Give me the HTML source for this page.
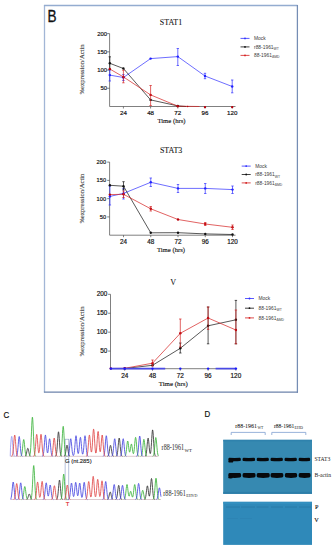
<!DOCTYPE html>
<html><head><meta charset="utf-8"><style>
html,body{margin:0;padding:0;background:#fff;}
body{width:334px;height:550px;overflow:hidden;}
svg{display:block;}
</style></head><body>
<svg width="334" height="550" viewBox="0 0 334 550">
<rect width="334" height="550" fill="#fff"/>
<path d="M44.5,5.5 V392.2" stroke="#a2b6d6" stroke-width="1.3" fill="none"/>
<path d="M43.9,5.5 H297.5" stroke="#94acd0" stroke-width="1.3" fill="none"/>
<path d="M297.4,4.9 V392.8" stroke="#758db4" stroke-width="1.25" fill="none"/>
<path d="M43.9,392.2 H298.0" stroke="#6c83ab" stroke-width="1.25" fill="none"/>
<text transform="translate(47.5,21.6) scale(0.86,1)" font-family='"Liberation Sans", sans-serif' font-size="15.8" fill="#111" stroke="#111" stroke-width="0.3">B</text>
<g stroke="#555" stroke-width="0.75" fill="none">
<path d="M109.6,33.6 V106.5 H235.5"/>
<path d="M107.19999999999999,33.60 H109.6"/>
<path d="M107.19999999999999,51.83 H109.6"/>
<path d="M107.19999999999999,70.05 H109.6"/>
<path d="M107.19999999999999,88.28 H109.6"/>
<path d="M123.40,106.5 V108.5"/>
<path d="M150.60,106.5 V108.5"/>
<path d="M177.80,106.5 V108.5"/>
<path d="M205.00,106.5 V108.5"/>
<path d="M232.20,106.5 V108.5"/>
</g>
<text x="107.0" y="35.60" font-family='"Liberation Sans", sans-serif' font-size="5.9" text-anchor="end" fill="#111" stroke="#111" stroke-width="0.18">200</text>
<text x="107.0" y="53.83" font-family='"Liberation Sans", sans-serif' font-size="5.9" text-anchor="end" fill="#111" stroke="#111" stroke-width="0.18">150</text>
<text x="107.0" y="72.05" font-family='"Liberation Sans", sans-serif' font-size="5.9" text-anchor="end" fill="#111" stroke="#111" stroke-width="0.18">100</text>
<text x="107.0" y="90.28" font-family='"Liberation Sans", sans-serif' font-size="5.9" text-anchor="end" fill="#111" stroke="#111" stroke-width="0.18">50</text>
<text x="123.40" y="115.40" font-family='"Liberation Sans", sans-serif' font-size="6.2" text-anchor="middle" fill="#111" stroke="#111" stroke-width="0.18">24</text>
<text x="150.60" y="115.40" font-family='"Liberation Sans", sans-serif' font-size="6.2" text-anchor="middle" fill="#111" stroke="#111" stroke-width="0.18">48</text>
<text x="177.80" y="115.40" font-family='"Liberation Sans", sans-serif' font-size="6.2" text-anchor="middle" fill="#111" stroke="#111" stroke-width="0.18">72</text>
<text x="205.00" y="115.40" font-family='"Liberation Sans", sans-serif' font-size="6.2" text-anchor="middle" fill="#111" stroke="#111" stroke-width="0.18">96</text>
<text x="232.20" y="115.40" font-family='"Liberation Sans", sans-serif' font-size="6.2" text-anchor="middle" fill="#111" stroke="#111" stroke-width="0.18">120</text>
<text x="171.5" y="123.0" font-family='"Liberation Serif", serif' font-size="6.6" text-anchor="middle" fill="#111" stroke="#111" stroke-width="0.12" textLength="28.2" lengthAdjust="spacingAndGlyphs">Time (hrs)</text>
<text transform="translate(84.0,69.5) rotate(-90)" font-family='"Liberation Serif", serif' font-size="6.6" text-anchor="middle" fill="#444" stroke="#444" stroke-width="0.12" textLength="50.0" lengthAdjust="spacingAndGlyphs">%expression/Actin</text>
<text x="171.0" y="25.0" font-family='"Liberation Serif", serif' font-size="7.5" text-anchor="middle" fill="#111" stroke="#111" stroke-width="0.08" textLength="22.4" lengthAdjust="spacingAndGlyphs">STAT1</text>
<path d="M109.80,75.10 L123.40,77.50 L150.60,58.60 L177.80,56.60 L205.00,76.00 L232.20,86.50" fill="none" stroke="#2f2fff" stroke-width="0.7"/>
<circle cx="109.80" cy="75.10" r="1.2" fill="#1a1aff"/>
<circle cx="123.40" cy="77.50" r="1.2" fill="#1a1aff"/>
<circle cx="150.60" cy="58.60" r="1.2" fill="#1a1aff"/>
<circle cx="177.80" cy="56.60" r="1.2" fill="#1a1aff"/>
<circle cx="205.00" cy="76.00" r="1.2" fill="#1a1aff"/>
<circle cx="232.20" cy="86.50" r="1.2" fill="#1a1aff"/>
<path d="M109.80,70 V81 M108.60,70 H111.00 M108.60,81 H111.00" stroke="#2f2fff" stroke-width="0.7" fill="none"/>
<path d="M123.40,74.5 V80.5 M122.20,74.5 H124.60 M122.20,80.5 H124.60" stroke="#2f2fff" stroke-width="0.7" fill="none"/>
<path d="M177.80,48.5 V65.5 M176.60,48.5 H179.00 M176.60,65.5 H179.00" stroke="#2f2fff" stroke-width="0.7" fill="none"/>
<path d="M205.00,73.3 V78.7 M203.80,73.3 H206.20 M203.80,78.7 H206.20" stroke="#2f2fff" stroke-width="0.7" fill="none"/>
<path d="M232.20,80 V92.8 M231.00,80 H233.40 M231.00,92.8 H233.40" stroke="#2f2fff" stroke-width="0.7" fill="none"/>
<path d="M109.80,63.30 L123.40,68.50 L150.60,99.90 L177.80,105.90 L186.00,106.50" fill="none" stroke="#111" stroke-width="0.7"/>
<circle cx="109.80" cy="63.30" r="1.2" fill="#111"/>
<circle cx="123.40" cy="68.50" r="1.2" fill="#111"/>
<circle cx="150.60" cy="99.90" r="1.2" fill="#111"/>
<circle cx="177.80" cy="105.90" r="1.2" fill="#111"/>
<path d="M109.80,56.8 V69.5 M108.60,56.8 H111.00 M108.60,69.5 H111.00" stroke="#111" stroke-width="0.7" fill="none"/>
<path d="M109.80,69.00 L123.40,76.90 L150.60,94.90 L177.80,106.20 L199.40,106.50 M205.00,107.10 M232.20,107.10" fill="none" stroke="#d42020" stroke-width="0.7"/>
<circle cx="109.80" cy="69.00" r="1.2" fill="#b8000c"/>
<circle cx="123.40" cy="76.90" r="1.2" fill="#b8000c"/>
<circle cx="150.60" cy="94.90" r="1.2" fill="#b8000c"/>
<circle cx="177.80" cy="106.20" r="1.2" fill="#b8000c"/>
<circle cx="205.00" cy="107.10" r="1.2" fill="#b8000c"/>
<circle cx="232.20" cy="107.10" r="1.2" fill="#b8000c"/>
<path d="M123.40,70.3 V82.8 M122.20,70.3 H124.60 M122.20,82.8 H124.60" stroke="#d42020" stroke-width="0.7" fill="none"/>
<path d="M150.60,85.5 V105.5 M149.40,85.5 H151.80 M149.40,105.5 H151.80" stroke="#d42020" stroke-width="0.7" fill="none"/>
<path d="M240.5,38.40 H249.5" stroke="#2f2fff" stroke-width="0.8"/>
<circle cx="245.0" cy="38.40" r="0.9" fill="#2f2fff"/>
<text x="254.0" y="40.20" font-family='"Liberation Sans", sans-serif' font-size="4.9" fill="#3a3a3a">Mock</text>
<path d="M240.5,46.90 H249.5" stroke="#111" stroke-width="0.8"/>
<circle cx="245.0" cy="46.90" r="0.9" fill="#111"/>
<text x="254.0" y="48.70" font-family='"Liberation Sans", sans-serif' font-size="4.9" fill="#3a3a3a">r88-1961<tspan font-size="3.4" dy="1.2">WT</tspan></text>
<path d="M240.5,55.40 H249.5" stroke="#d42020" stroke-width="0.8"/>
<circle cx="245.0" cy="55.40" r="0.9" fill="#d42020"/>
<text x="254.0" y="57.20" font-family='"Liberation Sans", sans-serif' font-size="4.9" fill="#3a3a3a">88-1961<tspan font-size="3.4" dy="1.2">ΔMD</tspan></text>
<circle cx="187.6" cy="106.5" r="0.8" fill="#b8000c"/>
<g stroke="#555" stroke-width="0.75" fill="none">
<path d="M109.6,162.1 V235.2 H235.5"/>
<path d="M107.19999999999999,162.10 H109.6"/>
<path d="M107.19999999999999,180.38 H109.6"/>
<path d="M107.19999999999999,198.65 H109.6"/>
<path d="M107.19999999999999,216.92 H109.6"/>
<path d="M123.50,235.2 V237.2"/>
<path d="M150.75,235.2 V237.2"/>
<path d="M178.00,235.2 V237.2"/>
<path d="M205.25,235.2 V237.2"/>
<path d="M232.50,235.2 V237.2"/>
</g>
<text x="106.1" y="164.10" font-family='"Liberation Sans", sans-serif' font-size="5.7" text-anchor="end" fill="#111" stroke="#111" stroke-width="0.18">200</text>
<text x="106.1" y="182.38" font-family='"Liberation Sans", sans-serif' font-size="5.7" text-anchor="end" fill="#111" stroke="#111" stroke-width="0.18">150</text>
<text x="106.1" y="200.65" font-family='"Liberation Sans", sans-serif' font-size="5.7" text-anchor="end" fill="#111" stroke="#111" stroke-width="0.18">100</text>
<text x="106.1" y="218.92" font-family='"Liberation Sans", sans-serif' font-size="5.7" text-anchor="end" fill="#111" stroke="#111" stroke-width="0.18">50</text>
<text x="123.50" y="244.10" font-family='"Liberation Sans", sans-serif' font-size="6.3" text-anchor="middle" fill="#111" stroke="#111" stroke-width="0.18">24</text>
<text x="150.75" y="244.10" font-family='"Liberation Sans", sans-serif' font-size="6.3" text-anchor="middle" fill="#111" stroke="#111" stroke-width="0.18">48</text>
<text x="178.00" y="244.10" font-family='"Liberation Sans", sans-serif' font-size="6.3" text-anchor="middle" fill="#111" stroke="#111" stroke-width="0.18">72</text>
<text x="205.25" y="244.10" font-family='"Liberation Sans", sans-serif' font-size="6.3" text-anchor="middle" fill="#111" stroke="#111" stroke-width="0.18">96</text>
<text x="232.50" y="244.10" font-family='"Liberation Sans", sans-serif' font-size="6.3" text-anchor="middle" fill="#111" stroke="#111" stroke-width="0.18">120</text>
<text x="171" y="252.0" font-family='"Liberation Serif", serif' font-size="6.6" text-anchor="middle" fill="#111" stroke="#111" stroke-width="0.12" textLength="28.2" lengthAdjust="spacingAndGlyphs">Time (hrs)</text>
<text transform="translate(83.7,198.6) rotate(-90)" font-family='"Liberation Serif", serif' font-size="6.6" text-anchor="middle" fill="#444" stroke="#444" stroke-width="0.12" textLength="50.0" lengthAdjust="spacingAndGlyphs">%expression/Actin</text>
<text x="171.1" y="152.5" font-family='"Liberation Serif", serif' font-size="7.5" text-anchor="middle" fill="#111" stroke="#111" stroke-width="0.08" textLength="22.4" lengthAdjust="spacingAndGlyphs">STAT3</text>
<path d="M109.88,196.40 L123.50,193.40 L150.75,182.30 L178.00,188.40 L205.25,188.40 L232.50,189.60" fill="none" stroke="#2f2fff" stroke-width="0.7"/>
<circle cx="109.88" cy="196.40" r="1.2" fill="#1a1aff"/>
<circle cx="123.50" cy="193.40" r="1.2" fill="#1a1aff"/>
<circle cx="150.75" cy="182.30" r="1.2" fill="#1a1aff"/>
<circle cx="178.00" cy="188.40" r="1.2" fill="#1a1aff"/>
<circle cx="205.25" cy="188.40" r="1.2" fill="#1a1aff"/>
<circle cx="232.50" cy="189.60" r="1.2" fill="#1a1aff"/>
<path d="M109.88,186 V205 M108.67,186 H111.08 M108.67,205 H111.08" stroke="#2f2fff" stroke-width="0.7" fill="none"/>
<path d="M123.50,188.5 V199 M122.30,188.5 H124.70 M122.30,199 H124.70" stroke="#2f2fff" stroke-width="0.7" fill="none"/>
<path d="M150.75,178 V186.5 M149.55,178 H151.95 M149.55,186.5 H151.95" stroke="#2f2fff" stroke-width="0.7" fill="none"/>
<path d="M178.00,184.5 V192.5 M176.80,184.5 H179.20 M176.80,192.5 H179.20" stroke="#2f2fff" stroke-width="0.7" fill="none"/>
<path d="M205.25,183.5 V193.5 M204.05,183.5 H206.45 M204.05,193.5 H206.45" stroke="#2f2fff" stroke-width="0.7" fill="none"/>
<path d="M232.50,186 V193.5 M231.30,186 H233.70 M231.30,193.5 H233.70" stroke="#2f2fff" stroke-width="0.7" fill="none"/>
<path d="M109.88,185.30 L123.50,186.20 L150.75,232.80 L178.00,232.70 L205.25,233.90 L232.50,234.50" fill="none" stroke="#111" stroke-width="0.7"/>
<circle cx="109.88" cy="185.30" r="1.2" fill="#111"/>
<circle cx="123.50" cy="186.20" r="1.2" fill="#111"/>
<circle cx="150.75" cy="232.80" r="1.2" fill="#111"/>
<circle cx="178.00" cy="232.70" r="1.2" fill="#111"/>
<circle cx="205.25" cy="233.90" r="1.2" fill="#111"/>
<circle cx="232.50" cy="234.50" r="1.2" fill="#111"/>
<path d="M123.50,181.7 V189.8 M122.30,181.7 H124.70 M122.30,189.8 H124.70" stroke="#111" stroke-width="0.7" fill="none"/>
<path d="M109.88,194.60 L123.50,194.30 L150.75,208.80 L178.00,219.50 L205.25,224.00 L232.50,227.30" fill="none" stroke="#d42020" stroke-width="0.7"/>
<circle cx="109.88" cy="194.60" r="1.2" fill="#b8000c"/>
<circle cx="123.50" cy="194.30" r="1.2" fill="#b8000c"/>
<circle cx="150.75" cy="208.80" r="1.2" fill="#b8000c"/>
<circle cx="178.00" cy="219.50" r="1.2" fill="#b8000c"/>
<circle cx="205.25" cy="224.00" r="1.2" fill="#b8000c"/>
<circle cx="232.50" cy="227.30" r="1.2" fill="#b8000c"/>
<path d="M123.50,191 V197.5 M122.30,191 H124.70 M122.30,197.5 H124.70" stroke="#d42020" stroke-width="0.7" fill="none"/>
<path d="M150.75,206.5 V211 M149.55,206.5 H151.95 M149.55,211 H151.95" stroke="#d42020" stroke-width="0.7" fill="none"/>
<path d="M205.25,222.5 V225.5 M204.05,222.5 H206.45 M204.05,225.5 H206.45" stroke="#d42020" stroke-width="0.7" fill="none"/>
<path d="M232.50,225 V229.5 M231.30,225 H233.70 M231.30,229.5 H233.70" stroke="#d42020" stroke-width="0.7" fill="none"/>
<path d="M241.7,166.10 H250.7" stroke="#2f2fff" stroke-width="0.8"/>
<circle cx="246.2" cy="166.10" r="0.9" fill="#2f2fff"/>
<text x="255.2" y="167.90" font-family='"Liberation Sans", sans-serif' font-size="4.9" fill="#3a3a3a">Mock</text>
<path d="M241.7,174.50 H250.7" stroke="#111" stroke-width="0.8"/>
<circle cx="246.2" cy="174.50" r="0.9" fill="#111"/>
<text x="255.2" y="176.30" font-family='"Liberation Sans", sans-serif' font-size="4.9" fill="#3a3a3a">r88-1961<tspan font-size="3.4" dy="1.2">WT</tspan></text>
<path d="M241.7,182.90 H250.7" stroke="#d42020" stroke-width="0.8"/>
<circle cx="246.2" cy="182.90" r="0.9" fill="#d42020"/>
<text x="255.2" y="184.70" font-family='"Liberation Sans", sans-serif' font-size="4.9" fill="#3a3a3a">r88-1961<tspan font-size="3.4" dy="1.2">ΔMD</tspan></text>
<g stroke="#555" stroke-width="0.75" fill="none">
<path d="M110.5,294.3 V368.7 H236.5"/>
<path d="M108.1,294.30 H110.5"/>
<path d="M108.1,313.23 H110.5"/>
<path d="M108.1,332.15 H110.5"/>
<path d="M108.1,351.07 H110.5"/>
<path d="M124.70,368.7 V370.7"/>
<path d="M152.50,368.7 V370.7"/>
<path d="M180.30,368.7 V370.7"/>
<path d="M208.10,368.7 V370.7"/>
<path d="M235.90,368.7 V370.7"/>
</g>
<text x="107.4" y="296.30" font-family='"Liberation Sans", sans-serif' font-size="6.4" text-anchor="end" fill="#111" stroke="#111" stroke-width="0.18">200</text>
<text x="107.4" y="315.23" font-family='"Liberation Sans", sans-serif' font-size="6.4" text-anchor="end" fill="#111" stroke="#111" stroke-width="0.18">150</text>
<text x="107.4" y="334.15" font-family='"Liberation Sans", sans-serif' font-size="6.4" text-anchor="end" fill="#111" stroke="#111" stroke-width="0.18">100</text>
<text x="107.4" y="353.07" font-family='"Liberation Sans", sans-serif' font-size="6.4" text-anchor="end" fill="#111" stroke="#111" stroke-width="0.18">50</text>
<text x="124.70" y="377.60" font-family='"Liberation Sans", sans-serif' font-size="6.4" text-anchor="middle" fill="#111" stroke="#111" stroke-width="0.18">24</text>
<text x="152.50" y="377.60" font-family='"Liberation Sans", sans-serif' font-size="6.4" text-anchor="middle" fill="#111" stroke="#111" stroke-width="0.18">48</text>
<text x="180.30" y="377.60" font-family='"Liberation Sans", sans-serif' font-size="6.4" text-anchor="middle" fill="#111" stroke="#111" stroke-width="0.18">72</text>
<text x="208.10" y="377.60" font-family='"Liberation Sans", sans-serif' font-size="6.4" text-anchor="middle" fill="#111" stroke="#111" stroke-width="0.18">96</text>
<text x="235.90" y="377.60" font-family='"Liberation Sans", sans-serif' font-size="6.4" text-anchor="middle" fill="#111" stroke="#111" stroke-width="0.18">120</text>
<text x="173.2" y="386.3" font-family='"Liberation Serif", serif' font-size="6.6" text-anchor="middle" fill="#111" stroke="#111" stroke-width="0.12" textLength="29.0" lengthAdjust="spacingAndGlyphs">Time (hrs)</text>
<text transform="translate(84.4,331.5) rotate(-90)" font-family='"Liberation Serif", serif' font-size="6.6" text-anchor="middle" fill="#444" stroke="#444" stroke-width="0.12" textLength="50.0" lengthAdjust="spacingAndGlyphs">%expression/Actin</text>
<text x="173.3" y="284.6" font-family='"Liberation Serif", serif' font-size="8.2" text-anchor="middle" fill="#111" stroke="#111" stroke-width="0.05">V</text>
<path d="M124.70,368.50 L152.50,365.30 L180.30,348.30 L208.10,325.80 L235.90,319.80" fill="none" stroke="#111" stroke-width="0.7"/>
<circle cx="124.70" cy="368.50" r="1.2" fill="#111"/>
<circle cx="152.50" cy="365.30" r="1.2" fill="#111"/>
<circle cx="180.30" cy="348.30" r="1.2" fill="#111"/>
<circle cx="208.10" cy="325.80" r="1.2" fill="#111"/>
<circle cx="235.90" cy="319.80" r="1.2" fill="#111"/>
<path d="M180.30,343 V353 M179.10,343 H181.50 M179.10,353 H181.50" stroke="#111" stroke-width="0.7" fill="none"/>
<path d="M208.10,307 V343.8 M206.90,307 H209.30 M206.90,343.8 H209.30" stroke="#111" stroke-width="0.7" fill="none"/>
<path d="M235.90,300.4 V343.8 M234.70,300.4 H237.10 M234.70,343.8 H237.10" stroke="#111" stroke-width="0.7" fill="none"/>
<path d="M110.80,368.50 L124.70,368.30 L152.50,363.20 L180.30,333.30 L208.10,318.00 L235.90,330.00" fill="none" stroke="#d42020" stroke-width="0.7"/>
<circle cx="110.80" cy="368.50" r="1.2" fill="#b8000c"/>
<circle cx="124.70" cy="368.30" r="1.2" fill="#b8000c"/>
<circle cx="152.50" cy="363.20" r="1.2" fill="#b8000c"/>
<circle cx="180.30" cy="333.30" r="1.2" fill="#b8000c"/>
<circle cx="208.10" cy="318.00" r="1.2" fill="#b8000c"/>
<circle cx="235.90" cy="330.00" r="1.2" fill="#b8000c"/>
<path d="M152.50,360 V366 M151.30,360 H153.70 M151.30,366 H153.70" stroke="#d42020" stroke-width="0.7" fill="none"/>
<path d="M180.30,319 V347 M179.10,319 H181.50 M179.10,347 H181.50" stroke="#d42020" stroke-width="0.7" fill="none"/>
<path d="M208.10,307 V329.4 M206.90,307 H209.30 M206.90,329.4 H209.30" stroke="#d42020" stroke-width="0.7" fill="none"/>
<path d="M235.90,310 V343.8 M234.70,310 H237.10 M234.70,343.8 H237.10" stroke="#d42020" stroke-width="0.7" fill="none"/>
<path d="M110.5,368.6 H165.2" stroke="#4a4ae6" stroke-width="1.7"/>
<path d="M215.6,368.6 H236.2" stroke="#4a4ae6" stroke-width="1.7"/>
<circle cx="110.80" cy="368.60" r="1.2" fill="#1a1aff"/>
<circle cx="124.70" cy="368.60" r="1.2" fill="#1a1aff"/>
<circle cx="152.50" cy="368.60" r="1.2" fill="#1a1aff"/>
<circle cx="180.30" cy="368.60" r="1.2" fill="#1a1aff"/>
<circle cx="208.10" cy="368.60" r="1.2" fill="#1a1aff"/>
<circle cx="235.90" cy="368.60" r="1.2" fill="#1a1aff"/>
<path d="M245,298.50 H254" stroke="#2f2fff" stroke-width="0.8"/>
<circle cx="249.5" cy="298.50" r="0.9" fill="#2f2fff"/>
<text x="258.5" y="300.30" font-family='"Liberation Sans", sans-serif' font-size="4.9" fill="#3a3a3a">Mock</text>
<path d="M245,308.20 H254" stroke="#111" stroke-width="0.8"/>
<circle cx="249.5" cy="308.20" r="0.9" fill="#111"/>
<text x="258.5" y="310.00" font-family='"Liberation Sans", sans-serif' font-size="4.9" fill="#3a3a3a">88-1961<tspan font-size="3.4" dy="1.2">WT</tspan></text>
<path d="M245,317.90 H254" stroke="#d42020" stroke-width="0.8"/>
<circle cx="249.5" cy="317.90" r="0.9" fill="#d42020"/>
<text x="258.5" y="319.70" font-family='"Liberation Sans", sans-serif' font-size="4.9" fill="#3a3a3a">88-1961<tspan font-size="3.4" dy="1.2">ΔMD</tspan></text>
<text transform="translate(3.5,418.0) scale(0.8,1)" font-family='"Liberation Sans", sans-serif' font-size="9.9" fill="#111" stroke="#111" stroke-width="0.2">C</text>
<rect x="65.1" y="439.2" width="3.7" height="60.6" fill="none" stroke="#8c9fc8" stroke-width="0.65"/>
<path d="M10.5,456.3 H158.5" stroke="#c4a4ac" stroke-width="0.6"/>
<path d="M10.25,456.30 10.50,447.29 10.75,444.17 11.00,441.05 11.25,438.42 11.50,436.74 11.75,436.33 12.00,437.27 12.25,439.39 12.50,442.27 12.75,445.44 13.00,448.46 13.25,451.02 13.50,452.98 13.75,454.35 14.00,455.23 14.25,455.75 14.50,456.04 14.75,456.30" fill="none" stroke="#9a9af0" stroke-width="0.85" stroke-linejoin="round"/>
<path d="M25.00,456.30 25.25,456.08 25.50,455.87 25.75,455.52 26.00,454.97 26.25,454.19 26.50,453.16 26.75,451.96 27.00,450.69 27.25,449.53 27.50,448.69 27.75,448.31 28.00,448.48 28.25,449.15 28.50,450.20 28.75,451.45 29.00,452.70 29.25,453.80 29.50,454.69 29.75,455.33 30.00,455.75 30.25,456.01 30.50,456.30 M55.25,456.30 55.50,456.13 55.75,455.93 56.00,455.53 56.25,454.82 56.50,453.63 56.75,451.81 57.00,449.26 57.25,445.99 57.50,442.22 57.75,438.36 58.00,434.97 58.25,432.63 58.50,431.80 58.75,432.63 59.00,434.97 59.25,438.36 59.50,442.22 59.75,445.99 60.00,449.26 60.25,451.81 60.50,453.63 60.75,454.82 61.00,455.53 61.25,455.93 61.50,456.13 61.75,456.30 M64.00,456.30 64.25,456.13 64.50,455.95 64.75,455.62 65.00,455.08 65.25,454.25 65.50,453.08 65.75,451.59 66.00,449.86 66.25,448.10 66.50,446.55 66.75,445.48 67.00,445.10 67.25,445.48 67.50,446.55 67.75,448.10 68.00,449.86 68.25,451.59 68.50,453.08 68.75,454.25 69.00,455.08 69.25,455.62 69.50,455.95 69.75,456.13 70.00,456.30 M107.50,456.30 107.75,456.13 108.00,455.96 108.25,455.63 108.50,455.10 108.75,454.28 109.00,453.14 109.25,451.67 109.50,449.98 109.75,448.25 110.00,446.72 110.25,445.67 110.50,445.30 110.75,445.67 111.00,446.72 111.25,448.25 111.50,449.98 111.75,451.67 112.00,453.14 112.25,454.28 112.50,455.10 112.75,455.63 113.00,455.96 113.25,456.13 113.50,456.30 M116.25,456.30 116.50,455.98 116.75,455.64 117.00,455.05 117.25,454.07 117.50,452.61 117.75,450.59 118.00,448.06 118.25,445.20 118.50,442.35 118.75,439.94 119.00,438.40 119.25,438.03 119.50,438.89 119.75,440.82 120.00,443.46 120.25,446.36 120.50,449.12 120.75,451.47 121.00,453.26 121.25,454.52 121.50,455.32 121.75,455.80 122.00,456.06 122.25,456.30 M145.00,456.30 145.25,456.10 145.50,455.87 145.75,455.45 146.00,454.72 146.25,453.57 146.50,451.89 146.75,449.67 147.00,446.99 147.25,444.10 147.50,441.39 147.75,439.29 148.00,438.20 148.25,438.32 148.50,439.64 148.75,441.89 149.00,444.66 149.25,447.50 149.50,450.03 149.75,451.98 150.00,453.21 150.25,453.65 150.50,453.25 150.75,451.95 151.00,449.71 151.25,446.57 151.50,442.71 151.75,438.53 152.00,434.59 152.25,431.54 152.50,429.95 152.75,430.13 153.00,432.05 153.25,435.33 153.50,439.38 153.75,443.56 154.00,447.35 154.25,450.44 154.50,452.71 154.75,454.25 155.00,455.21 155.25,455.76 155.50,456.05 155.75,456.30" fill="none" stroke="#333333" stroke-width="0.85" stroke-linejoin="round"/>
<path d="M20.75,456.30 21.00,456.00 21.25,455.70 21.50,455.15 21.75,454.26 22.00,452.91 22.25,451.06 22.50,448.73 22.75,446.11 23.00,443.49 23.25,441.28 23.50,439.87 23.75,439.52 24.00,440.32 24.25,442.09 24.50,444.52 24.75,447.18 25.00,449.71 25.25,451.86 25.50,453.51 25.75,454.66 26.00,455.40 26.25,455.84 26.50,456.08 26.75,456.30 M29.00,456.30 29.25,456.14 29.50,455.93 29.75,455.50 30.00,454.68 30.25,453.26 30.50,450.98 30.75,447.60 31.00,443.03 31.25,437.41 31.50,431.21 31.75,425.20 32.00,420.33 32.25,417.49 32.50,417.22 32.75,419.58 33.00,424.11 33.25,429.96 33.50,436.20 33.75,441.98 34.00,446.78 34.25,450.40 34.50,452.89 34.75,454.46 35.00,455.37 35.25,455.86 35.50,456.11 35.75,456.30 M60.00,456.30 60.25,456.06 60.50,455.77 60.75,455.22 61.00,454.25 61.25,452.65 61.50,450.25 61.75,446.94 62.00,442.79 62.25,438.10 62.50,433.43 62.75,429.48 63.00,426.96 63.25,426.34 63.50,427.76 63.75,430.93 64.00,435.26 64.25,440.01 64.50,444.54 64.75,448.37 65.00,451.32 65.25,453.38 65.50,454.70 65.75,455.48 66.00,455.91 66.25,456.13 66.50,456.30 M124.75,456.30 125.00,456.03 125.25,455.75 125.50,455.25 125.75,454.44 126.00,453.21 126.25,451.53 126.50,449.41 126.75,447.02 127.00,444.64 127.25,442.62 127.50,441.33 127.75,441.01 128.00,441.72 128.25,443.31 128.50,445.45 128.75,447.74 129.00,449.80 129.25,451.31 129.50,452.09 129.75,452.09 130.00,451.33 130.25,449.97 130.50,448.25 130.75,446.48 131.00,445.01 131.25,444.14 131.50,444.06 131.75,444.80 132.00,446.21 132.25,448.02 132.50,449.92 132.75,451.61 133.00,452.87 133.25,453.56 133.50,453.58 133.75,452.87 134.00,451.41 134.25,449.24 134.50,446.52 134.75,443.54 135.00,440.73 135.25,438.54 135.50,437.40 135.75,437.54 136.00,438.91 136.25,441.27 136.50,444.17 136.75,447.17 137.00,449.89 137.25,452.10 137.50,453.73 137.75,454.83 138.00,455.52 138.25,455.91 138.50,456.12 138.75,456.30 M140.75,456.30 141.00,456.14 141.25,455.95 141.50,455.60 141.75,454.99 142.00,454.00 142.25,452.54 142.50,450.56 142.75,448.13 143.00,445.45 143.25,442.85 143.50,440.74 143.75,439.51 144.00,439.39 144.25,440.42 144.50,442.37 144.75,444.91 145.00,447.60 145.25,450.11 145.50,452.18 145.75,453.75 146.00,454.82 146.25,455.50 146.50,455.90 146.75,456.11 147.00,456.30 M152.75,456.30 153.00,456.06 153.25,455.79 153.50,455.30 153.75,454.47 154.00,453.18 154.25,451.33 154.50,448.93 154.75,446.09 155.00,443.11 155.25,440.40 155.50,438.41 155.75,437.53 156.00,437.91 156.25,439.50 156.50,441.97 156.75,444.90 157.00,447.83 157.25,450.43 157.50,452.51 157.75,454.01 158.00,455.01 158.25,455.62 158.50,455.97" fill="none" stroke="#3cb43c" stroke-width="0.85" stroke-linejoin="round"/>
<path d="M16.00,456.30 16.25,456.14 16.50,455.95 16.75,455.59 17.00,454.94 17.25,453.89 17.50,452.31 17.75,450.12 18.00,447.38 18.25,444.29 18.50,441.21 18.75,438.60 19.00,436.93 19.25,436.53 19.50,437.46 19.75,439.56 20.00,442.41 20.25,445.55 20.50,448.54 20.75,451.07 21.00,453.01 21.25,454.37 21.50,455.24 21.75,455.76 22.00,456.04 22.25,456.30 M42.25,456.30 42.50,456.10 42.75,455.86 43.00,455.42 43.25,454.65 43.50,453.42 43.75,451.59 44.00,449.11 44.25,446.06 44.50,442.70 44.75,439.45 45.00,436.81 45.25,435.26 45.50,435.12 45.75,436.39 46.00,438.84 46.25,441.99 46.50,445.32 46.75,448.34 47.00,450.73 47.25,452.28 47.50,452.92 47.75,452.66 48.00,451.54 48.25,449.65 48.50,447.19 48.75,444.46 49.00,441.87 49.25,439.85 49.50,438.80 49.75,438.92 50.00,440.19 50.25,442.37 50.50,445.06 50.75,447.84 51.00,450.36 51.25,452.41 51.50,453.92 51.75,454.94 52.00,455.58 52.25,455.94 52.50,456.13 52.75,456.30 M67.75,456.30 68.00,455.99 68.25,455.67 68.50,455.10 68.75,454.16 69.00,452.75 69.25,450.81 69.50,448.37 69.75,445.63 70.00,442.88 70.25,440.57 70.50,439.09 70.75,438.72 71.00,439.56 71.25,441.42 71.50,443.95 71.75,446.74 72.00,449.40 72.25,451.64 72.50,453.35 72.75,454.53 73.00,455.22 73.25,455.51 73.50,455.43 73.75,454.95 74.00,454.01 74.25,452.51 74.50,450.37 74.75,447.63 75.00,444.46 75.25,441.22 75.50,438.36 75.75,436.40 76.00,435.70 76.25,436.40 76.50,438.36 76.75,441.20 77.00,444.43 77.25,447.55 77.50,450.20 77.75,452.14 78.00,453.27 78.25,453.59 78.50,453.08 78.75,451.78 79.00,449.74 79.25,447.11 79.50,444.15 79.75,441.26 80.00,438.91 80.25,437.53 80.50,437.40 80.75,438.55 81.00,440.73 81.25,443.56 81.50,446.56 81.75,449.32 82.00,451.56 82.25,453.14 82.50,454.00 82.75,454.16 83.00,453.60 83.25,452.31 83.50,450.28 83.75,447.59 84.00,444.45 84.25,441.21 84.50,438.36 84.75,436.40 85.00,435.70 85.25,436.40 85.50,438.36 85.75,441.22 86.00,444.46 86.25,447.63 86.50,450.38 86.75,452.52 87.00,454.05 87.25,455.05 87.50,455.65 87.75,455.99 88.00,456.30 M103.25,456.30 103.50,456.03 103.75,455.74 104.00,455.20 104.25,454.29 104.50,452.88 104.75,450.86 105.00,448.22 105.25,445.12 105.50,441.85 105.75,438.88 106.00,436.70 106.25,435.73 106.50,436.15 106.75,437.89 107.00,440.60 107.25,443.81 107.50,447.02 107.75,449.87 108.00,452.15 108.25,453.79 108.50,454.89 108.75,455.56 109.00,455.94 109.25,456.13 109.50,456.30 M111.75,456.30 112.00,455.99 112.25,455.67 112.50,455.10 112.75,454.16 113.00,452.75 113.25,450.81 113.50,448.37 113.75,445.63 114.00,442.88 114.25,440.57 114.50,439.09 114.75,438.72 115.00,439.56 115.25,441.42 115.50,443.95 115.75,446.74 116.00,449.40 116.25,451.65 116.50,453.38 116.75,454.58 117.00,455.36 117.25,455.82 117.50,456.07 117.75,456.30 M120.25,456.30 120.50,455.99 120.75,455.67 121.00,455.10 121.25,454.16 121.50,452.75 121.75,450.81 122.00,448.37 122.25,445.63 122.50,442.88 122.75,440.57 123.00,439.09 123.25,438.72 123.50,439.56 123.75,441.42 124.00,443.95 124.25,446.74 124.50,449.40 124.75,451.65 125.00,453.38 125.25,454.58 125.50,455.36 125.75,455.82 126.00,456.07 126.25,456.30 M136.50,456.30 136.75,456.14 137.00,455.94 137.25,455.57 137.50,454.91 137.75,453.83 138.00,452.21 138.25,449.97 138.50,447.16 138.75,443.99 139.00,440.83 139.25,438.15 139.50,436.44 139.75,436.03 140.00,436.99 140.25,439.13 140.50,442.06 140.75,445.28 141.00,448.34 141.25,450.94 141.50,452.93 141.75,454.32 142.00,455.22 142.25,455.75 142.50,456.04 142.75,456.30" fill="none" stroke="#4646e0" stroke-width="0.85" stroke-linejoin="round"/>
<path d="M11.50,456.30 11.75,456.13 12.00,455.92 12.25,455.53 12.50,454.84 12.75,453.71 13.00,452.00 13.25,449.65 13.50,446.71 13.75,443.38 14.00,440.06 14.25,437.26 14.50,435.47 14.75,435.03 15.00,436.04 15.25,438.29 15.50,441.36 15.75,444.74 16.00,447.95 16.25,450.67 16.50,452.76 16.75,454.22 17.00,455.16 17.25,455.72 17.50,456.02 17.75,456.30 M33.50,456.30 33.75,456.12 34.00,455.91 34.25,455.51 34.50,454.79 34.75,453.62 35.00,451.86 35.25,449.44 35.50,446.39 35.75,442.96 36.00,439.53 36.25,436.63 36.50,434.78 36.75,434.33 37.00,435.37 37.25,437.69 37.50,440.84 37.75,444.29 38.00,447.52 38.25,450.15 38.50,451.96 38.75,452.82 39.00,452.73 39.25,451.67 39.50,449.69 39.75,446.92 40.00,443.61 40.25,440.17 40.50,437.14 40.75,435.05 41.00,434.30 41.25,435.05 41.50,437.15 41.75,440.19 42.00,443.66 42.25,447.04 42.50,449.98 42.75,452.27 43.00,453.90 43.25,454.97 43.50,455.61 43.75,455.97 44.00,456.15 44.25,456.30 M51.25,456.30 51.50,455.98 51.75,455.64 52.00,455.05 52.25,454.07 52.50,452.61 52.75,450.59 53.00,448.06 53.25,445.20 53.50,442.35 53.75,439.94 54.00,438.40 54.25,438.03 54.50,438.89 54.75,440.82 55.00,443.46 55.25,446.36 55.50,449.12 55.75,451.47 56.00,453.26 56.25,454.52 56.50,455.32 56.75,455.80 57.00,456.06 57.25,456.30 M86.25,456.30 86.50,456.10 86.75,455.86 87.00,455.42 87.25,454.65 87.50,453.42 87.75,451.59 88.00,449.11 88.25,446.06 88.50,442.70 88.75,439.45 89.00,436.81 89.25,435.26 89.50,435.12 89.75,436.39 90.00,438.83 90.25,441.97 90.50,445.27 90.75,448.24 91.00,450.50 91.25,451.82 91.50,452.08 91.75,451.20 92.00,449.19 92.25,446.12 92.50,442.23 92.75,437.96 93.00,433.92 93.25,430.79 93.50,429.15 93.75,429.34 94.00,431.31 94.25,434.69 94.50,438.85 94.75,443.13 95.00,446.96 95.25,449.98 95.50,452.01 95.75,453.02 96.00,453.01 96.25,451.99 96.50,449.99 96.75,447.08 97.00,443.47 97.25,439.53 97.50,435.81 97.75,432.94 98.00,431.44 98.25,431.61 98.50,433.41 98.75,436.49 99.00,440.27 99.25,444.11 99.50,447.48 99.75,450.00 100.00,451.46 100.25,451.78 100.50,450.98 100.75,449.14 101.00,446.47 101.25,443.28 101.50,440.02 101.75,437.24 102.00,435.46 102.25,435.03 102.50,436.04 102.75,438.29 103.00,441.36 103.25,444.74 103.50,447.95 103.75,450.67 104.00,452.76 104.25,454.22 104.50,455.16 104.75,455.72 105.00,456.02 105.25,456.30" fill="none" stroke="#e04848" stroke-width="0.85" stroke-linejoin="round"/>
<path d="M11.0,499.5 H161.0" stroke="#c4a4ac" stroke-width="0.6"/>
<path d="M26.75,499.50 27.00,499.21 27.25,498.96 27.50,498.59 27.75,498.05 28.00,497.34 28.25,496.51 28.50,495.64 28.75,494.85 29.00,494.27 29.25,494.01 29.50,494.12 29.75,494.58 30.00,495.31 30.25,496.16 30.50,497.02 30.75,497.78 31.00,498.39 31.25,498.83 31.50,499.12 31.75,499.30 32.00,499.50 M56.50,499.50 56.75,499.20 57.00,498.89 57.25,498.32 57.50,497.37 57.75,495.93 58.00,493.89 58.25,491.29 58.50,488.29 58.75,485.22 59.00,482.52 59.25,480.66 59.50,480.00 59.75,480.66 60.00,482.52 60.25,485.22 60.50,488.29 60.75,491.29 61.00,493.89 61.25,495.93 61.50,497.37 61.75,498.32 62.00,498.89 62.25,499.20 62.50,499.50 M107.50,499.50 107.75,499.23 108.00,498.99 108.25,498.59 108.50,497.99 108.75,497.16 109.00,496.12 109.25,494.95 109.50,493.78 109.75,492.80 110.00,492.16 110.25,492.01 110.50,492.36 110.75,493.16 111.00,494.24 111.25,495.43 111.50,496.56 111.75,497.52 112.00,498.25 112.25,498.77 112.50,499.10 112.75,499.30 113.00,499.50 M115.75,499.50 116.00,499.25 116.25,498.99 116.50,498.53 116.75,497.77 117.00,496.64 117.25,495.07 117.50,493.11 117.75,490.89 118.00,488.68 118.25,486.81 118.50,485.61 118.75,485.32 119.00,485.99 119.25,487.49 119.50,489.54 119.75,491.79 120.00,493.93 120.25,495.75 120.50,497.14 120.75,498.12 121.00,498.74 121.25,499.11 121.50,499.32 121.75,499.50 M144.50,499.50 144.75,499.22 145.00,498.94 145.25,498.44 145.50,497.65 145.75,496.47 146.00,494.87 146.25,492.92 146.50,490.75 146.75,488.66 147.00,486.96 147.25,485.97 147.50,485.87 147.75,486.69 148.00,488.25 148.25,490.26 148.50,492.35 148.75,494.19 149.00,495.52 149.25,496.17 149.50,496.02 149.75,495.01 150.00,493.14 150.25,490.51 150.50,487.37 150.75,484.10 151.00,481.21 151.25,479.21 151.50,478.50 151.75,479.21 152.00,481.22 152.25,484.12 152.50,487.43 152.75,490.66 153.00,493.46 153.25,495.65 153.50,497.21 153.75,498.23 154.00,498.84 154.25,499.18 154.50,499.50" fill="none" stroke="#333333" stroke-width="0.85" stroke-linejoin="round"/>
<path d="M21.75,499.50 22.00,499.33 22.25,499.15 22.50,498.81 22.75,498.23 23.00,497.34 23.25,496.07 23.50,494.40 23.75,492.44 24.00,490.38 24.25,488.51 24.50,487.13 24.75,486.52 25.00,486.78 25.25,487.88 25.50,489.59 25.75,491.62 26.00,493.65 26.25,495.44 26.50,496.88 26.75,497.92 27.00,498.61 27.25,499.03 27.50,499.27 27.75,499.50 M30.50,499.50 30.75,499.23 31.00,498.90 31.25,498.28 31.50,497.17 31.75,495.36 32.00,492.64 32.25,488.89 32.50,484.19 32.75,478.88 33.00,473.58 33.25,469.11 33.50,466.25 33.75,465.55 34.00,467.15 34.25,470.75 34.50,475.65 34.75,481.04 35.00,486.17 35.25,490.52 35.50,493.85 35.75,496.19 36.00,497.69 36.25,498.57 36.50,499.06 36.75,499.30 37.00,499.50 M60.50,499.50 60.75,499.29 61.00,499.05 61.25,498.58 61.50,497.75 61.75,496.40 62.00,494.36 62.25,491.54 62.50,488.02 62.75,484.03 63.00,480.06 63.25,476.71 63.50,474.56 63.75,474.04 64.00,475.24 64.25,477.93 64.50,481.61 64.75,485.66 65.00,489.50 65.25,492.76 65.50,495.26 65.75,497.01 66.00,498.14 66.25,498.80 66.50,499.17 66.75,499.50 M124.00,499.50 124.25,499.27 124.50,499.03 124.75,498.59 125.00,497.86 125.25,496.75 125.50,495.19 125.75,493.19 126.00,490.88 126.25,488.52 126.50,486.44 126.75,485.01 127.00,484.50 127.25,485.00 127.50,486.41 127.75,488.45 128.00,490.74 128.25,492.89 128.50,494.63 128.75,495.75 129.00,496.21 129.25,496.03 129.50,495.34 129.75,494.30 130.00,493.15 130.25,492.13 130.50,491.46 130.75,491.30 131.00,491.69 131.25,492.54 131.50,493.70 131.75,494.93 132.00,496.02 132.25,496.79 132.50,497.11 132.75,496.88 133.00,496.04 133.25,494.60 133.50,492.64 133.75,490.35 134.00,488.05 134.25,486.08 134.50,484.83 134.75,484.52 135.00,485.23 135.25,486.81 135.50,488.98 135.75,491.36 136.00,493.62 136.25,495.54 136.50,497.01 136.75,498.04 137.00,498.70 137.25,499.09 137.50,499.31 137.75,499.50 M139.75,499.50 140.00,499.34 140.25,499.17 140.50,498.87 140.75,498.38 141.00,497.64 141.25,496.63 141.50,495.36 141.75,493.92 142.00,492.49 142.25,491.28 142.50,490.50 142.75,490.31 143.00,490.75 143.25,491.72 143.50,493.05 143.75,494.51 144.00,495.89 144.25,497.07 144.50,497.97 144.75,498.60 145.00,499.01 145.25,499.25 145.50,499.50 M153.00,499.50 153.25,499.18 153.50,498.83 153.75,498.21 154.00,497.18 154.25,495.60 154.50,493.38 154.75,490.54 155.00,487.26 155.25,483.90 155.50,480.95 155.75,478.92 156.00,478.20 156.25,478.92 156.50,480.95 156.75,483.90 157.00,487.26 157.25,490.54 157.50,493.38 157.75,495.60 158.00,497.18 158.25,498.21 158.50,498.83 158.75,499.18 159.00,499.50" fill="none" stroke="#3cb43c" stroke-width="0.85" stroke-linejoin="round"/>
<path d="M10.75,499.50 11.00,498.30 11.25,497.37 11.50,495.97 11.75,494.04 12.00,491.62 12.25,488.89 12.50,486.16 12.75,483.86 13.00,482.38 13.25,482.02 13.50,482.85 13.75,484.70 14.00,487.22 14.25,490.00 14.50,492.64 14.75,494.88 15.00,496.59 15.25,497.79 15.50,498.57 15.75,499.02 16.00,499.27 16.25,499.50 M17.75,499.50 18.00,499.21 18.25,498.90 18.50,498.36 18.75,497.47 19.00,496.13 19.25,494.29 19.50,491.98 19.75,489.37 20.00,486.77 20.25,484.57 20.50,483.17 20.75,482.82 21.00,483.61 21.25,485.38 21.50,487.79 21.75,490.43 22.00,492.95 22.25,495.09 22.50,496.73 22.75,497.87 23.00,498.61 23.25,499.04 23.50,499.28 23.75,499.50 M43.25,499.50 43.50,499.21 43.75,498.90 44.00,498.36 44.25,497.47 44.50,496.13 44.75,494.29 45.00,491.98 45.25,489.37 45.50,486.77 45.75,484.57 46.00,483.17 46.25,482.82 46.50,483.60 46.75,485.36 47.00,487.74 47.25,490.32 47.50,492.70 47.75,494.57 48.00,495.73 48.25,496.11 48.50,495.68 48.75,494.52 49.00,492.75 49.25,490.61 49.50,488.41 49.75,486.52 50.00,485.31 50.25,485.02 50.50,485.70 50.75,487.24 51.00,489.33 51.25,491.63 51.50,493.81 51.75,495.67 52.00,497.09 52.25,498.09 52.50,498.73 52.75,499.10 53.00,499.31 53.25,499.50 M68.50,499.50 68.75,499.25 69.00,498.98 69.25,498.50 69.50,497.70 69.75,496.48 70.00,494.76 70.25,492.56 70.50,490.02 70.75,487.42 71.00,485.13 71.25,483.56 71.50,483.00 71.75,483.56 72.00,485.13 72.25,487.39 72.50,489.96 72.75,492.42 73.00,494.45 73.25,495.86 73.50,496.52 73.75,496.41 74.00,495.51 74.25,493.88 74.50,491.64 74.75,489.02 75.00,486.37 75.25,484.12 75.50,482.67 75.75,482.32 76.00,483.13 76.25,484.93 76.50,487.38 76.75,490.03 77.00,492.47 77.25,494.36 77.50,495.51 77.75,495.82 78.00,495.25 78.25,493.88 78.50,491.85 78.75,489.39 79.00,486.88 79.25,484.74 79.50,483.36 79.75,483.02 80.00,483.80 80.25,485.54 80.50,487.92 80.75,490.52 81.00,492.97 81.25,495.00 81.50,496.46 81.75,497.27 82.00,497.44 82.25,496.96 82.50,495.82 82.75,494.04 83.00,491.71 83.25,489.05 83.50,486.38 83.75,484.12 84.00,482.68 84.25,482.32 84.50,483.14 84.75,484.95 85.00,487.43 85.25,490.16 85.50,492.76 85.75,494.96 86.00,496.64 86.25,497.82 86.50,498.58 86.75,499.03 87.00,499.28 87.25,499.50 M102.75,499.50 103.00,499.18 103.25,498.85 103.50,498.27 103.75,497.31 104.00,495.87 104.25,493.88 104.50,491.39 104.75,488.58 105.00,485.78 105.25,483.41 105.50,481.89 105.75,481.52 106.00,482.38 106.25,484.28 106.50,486.87 106.75,489.73 107.00,492.44 107.25,494.74 107.50,496.51 107.75,497.75 108.00,498.54 108.25,499.01 108.50,499.27 108.75,499.50 M111.25,499.50 111.50,499.24 111.75,498.96 112.00,498.47 112.25,497.68 112.50,496.47 112.75,494.82 113.00,492.75 113.25,490.40 113.50,488.07 113.75,486.09 114.00,484.83 114.25,484.52 114.50,485.23 114.75,486.81 115.00,488.98 115.25,491.36 115.50,493.62 115.75,495.54 116.00,497.01 116.25,498.04 116.50,498.70 116.75,499.09 117.00,499.31 117.25,499.50 M119.50,499.50 119.75,499.28 120.00,499.05 120.25,498.64 120.50,497.95 120.75,496.90 121.00,495.42 121.25,493.52 121.50,491.34 121.75,489.10 122.00,487.14 122.25,485.78 122.50,485.30 122.75,485.78 123.00,487.14 123.25,489.10 123.50,491.34 123.75,493.52 124.00,495.42 124.25,496.90 124.50,497.95 124.75,498.64 125.00,499.05 125.25,499.28 125.50,499.50 M135.50,499.50 135.75,499.32 136.00,499.12 136.25,498.74 136.50,498.10 136.75,497.08 137.00,495.60 137.25,493.63 137.50,491.26 137.75,488.71 138.00,486.31 138.25,484.46 138.50,483.49 138.75,483.60 139.00,484.77 139.25,486.76 139.50,489.22 139.75,491.76 140.00,494.06 140.25,495.94 140.50,497.32 140.75,498.26 141.00,498.84 141.25,499.17 141.50,499.35 141.75,499.50 M156.50,499.50 156.75,499.26 157.00,499.02 157.25,498.60 157.50,497.92 157.75,496.91 158.00,495.55 158.25,493.88 158.50,492.03 158.75,490.24 159.00,488.79 159.25,487.94 159.50,487.86 159.75,488.57 160.00,489.92 160.25,491.66 160.50,493.52 160.75,495.24 161.00,496.67" fill="none" stroke="#4646e0" stroke-width="0.85" stroke-linejoin="round"/>
<path d="M13.75,499.50 14.00,499.22 14.25,498.92 14.50,498.40 14.75,497.55 15.00,496.27 15.25,494.51 15.50,492.29 15.75,489.80 16.00,487.30 16.25,485.20 16.50,483.85 16.75,483.52 17.00,484.28 17.25,485.97 17.50,488.28 17.75,490.81 18.00,493.23 18.25,495.27 18.50,496.84 18.75,497.94 19.00,498.65 19.25,499.06 19.50,499.29 19.75,499.50 M34.50,499.50 34.75,499.31 35.00,499.09 35.25,498.68 35.50,497.98 35.75,496.87 36.00,495.26 36.25,493.12 36.50,490.55 36.75,487.77 37.00,485.16 37.25,483.15 37.50,482.10 37.75,482.22 38.00,483.48 38.25,485.65 38.50,488.31 38.75,491.05 39.00,493.50 39.25,495.43 39.50,496.70 39.75,497.29 40.00,497.20 40.25,496.41 40.50,494.93 40.75,492.80 41.00,490.16 41.25,487.29 41.50,484.59 41.75,482.49 42.00,481.40 42.25,481.53 42.50,482.84 42.75,485.10 43.00,487.88 43.25,490.75 43.50,493.36 43.75,495.47 44.00,497.04 44.25,498.09 44.50,498.75 44.75,499.13 45.00,499.33 45.25,499.50 M51.50,499.50 51.75,499.22 52.00,498.93 52.25,498.43 52.50,497.63 52.75,496.45 53.00,494.84 53.25,492.87 53.50,490.69 53.75,488.58 54.00,486.87 54.25,485.87 54.50,485.78 54.75,486.61 55.00,488.20 55.25,490.25 55.50,492.44 55.75,494.47 56.00,496.16 56.25,497.43 56.50,498.30 56.75,498.85 57.00,499.17 57.25,499.35 57.50,499.50 M64.25,499.50 64.50,499.31 64.75,499.10 65.00,498.73 65.25,498.09 65.50,497.09 65.75,495.67 66.00,493.81 66.25,491.63 66.50,489.33 66.75,487.24 67.00,485.71 67.25,485.02 67.50,485.32 67.75,486.54 68.00,488.45 68.25,490.71 68.50,492.97 68.75,494.98 69.00,496.58 69.25,497.74 69.50,498.51 69.75,498.98 70.00,499.24 70.25,499.50 M85.75,499.50 86.00,499.18 86.25,498.85 86.50,498.27 86.75,497.31 87.00,495.87 87.25,493.88 87.50,491.39 87.75,488.58 88.00,485.78 88.25,483.41 88.50,481.89 88.75,481.52 89.00,482.37 89.25,484.27 89.50,486.86 89.75,489.70 90.00,492.36 90.25,494.56 90.50,496.10 90.75,496.91 91.00,496.95 91.25,496.19 91.50,494.59 91.75,492.16 92.00,489.01 92.25,485.41 92.50,481.81 92.75,478.76 93.00,476.81 93.25,476.33 93.50,477.43 93.75,479.88 94.00,483.22 94.25,486.88 94.50,490.33 94.75,493.21 95.00,495.29 95.25,496.51 95.50,496.88 95.75,496.41 96.00,495.12 96.25,493.06 96.50,490.35 96.75,487.23 97.00,484.09 97.25,481.44 97.50,479.74 97.75,479.33 98.00,480.28 98.25,482.41 98.50,485.31 98.75,488.48 99.00,491.45 99.25,493.88 99.50,495.56 99.75,496.40 100.00,496.38 100.25,495.52 100.50,493.86 100.75,491.51 101.00,488.71 101.25,485.79 101.50,483.21 101.75,481.43 102.00,480.80 102.25,481.44 102.50,483.22 102.75,485.81 103.00,488.75 103.25,491.63 103.50,494.12 103.75,496.07 104.00,497.46 104.25,498.37 104.50,498.91 104.75,499.22 105.00,499.50" fill="none" stroke="#e04848" stroke-width="0.85" stroke-linejoin="round"/>
<text x="65.0" y="463.4" font-family='"Liberation Sans", sans-serif' font-size="6.1" fill="#222" stroke="#222" stroke-width="0.12" textLength="26.6" lengthAdjust="spacingAndGlyphs">G (nt.285)</text>
<text x="67.6" y="506.0" font-family='"Liberation Sans", sans-serif' font-size="5.9" fill="#e02828" stroke="#e02828" stroke-width="0.15" text-anchor="middle">T</text>
<text x="161.6" y="450.4" font-family='"Liberation Serif", serif' font-size="7.3" fill="#1a1a1a" textLength="22.4" lengthAdjust="spacingAndGlyphs">r88-1961</text>
<text x="184.6" y="451.6" font-family='"Liberation Serif", serif' font-size="4.4" fill="#1a1a1a" textLength="7.4" lengthAdjust="spacingAndGlyphs">WT</text>
<text x="163.3" y="496.0" font-family='"Liberation Serif", serif' font-size="7.3" fill="#1a1a1a" textLength="22.4" lengthAdjust="spacingAndGlyphs">r88-1961</text>
<text x="186.2" y="497.2" font-family='"Liberation Serif", serif' font-size="4.4" fill="#1a1a1a" textLength="11.2" lengthAdjust="spacingAndGlyphs">EHVD</text>
<text transform="translate(204.4,417.2) scale(0.9,1)" font-family='"Liberation Sans", sans-serif' font-size="8.8" fill="#111" stroke="#111" stroke-width="0.2">D</text>
<text x="235.3" y="428.2" font-family='"Liberation Serif", serif' font-size="6.2" fill="#222" stroke="#222" stroke-width="0.06" textLength="21.6" lengthAdjust="spacingAndGlyphs">r88-1961</text>
<text x="257.4" y="429.3" font-family='"Liberation Serif", serif' font-size="4.2" fill="#222" textLength="5.8" lengthAdjust="spacingAndGlyphs">WT</text>
<text x="274.0" y="428.2" font-family='"Liberation Serif", serif' font-size="6.2" fill="#222" stroke="#222" stroke-width="0.06" textLength="20.2" lengthAdjust="spacingAndGlyphs">r88-1961</text>
<text x="294.6" y="429.3" font-family='"Liberation Serif", serif' font-size="4.2" fill="#222" textLength="8.4" lengthAdjust="spacingAndGlyphs">EHD</text>
<path d="M231.2,435.0 V432.4 H265.2 V435.0 M271.8,435.0 V432.4 H305.8 V435.0" fill="none" stroke="#7f9fd0" stroke-width="0.8"/>
<rect x="223.2" y="439.8" width="88.8" height="54.1" fill="#3689b1"/>
<rect x="223.2" y="439.8" width="88.8" height="1.6" fill="#2e81ad" opacity="0.8"/>
<rect x="223.2" y="491.9" width="88.8" height="2.0" fill="#2c7ca8" opacity="0.8"/>
<path d="M229.29,457.80 Q234.60,458.05 239.91,457.80 Q240.90,457.80 240.90,459.45 Q240.90,460.95 239.91,460.95 Q234.60,461.60 229.29,460.95 Q228.30,460.95 228.30,459.45 Q228.30,457.80 229.29,457.80 Z" fill="#07090c"/>
<path d="M243.49,457.80 Q248.80,458.05 254.11,457.80 Q255.10,457.80 255.10,459.45 Q255.10,460.95 254.11,460.95 Q248.80,461.60 243.49,460.95 Q242.50,460.95 242.50,459.45 Q242.50,457.80 243.49,457.80 Z" fill="#07090c"/>
<path d="M257.69,457.80 Q262.80,458.05 267.91,457.80 Q268.90,457.80 268.90,459.45 Q268.90,460.95 267.91,460.95 Q262.80,461.60 257.69,460.95 Q256.70,460.95 256.70,459.45 Q256.70,457.80 257.69,457.80 Z" fill="#07090c"/>
<path d="M271.49,457.80 Q276.70,458.05 281.91,457.80 Q282.90,457.80 282.90,459.45 Q282.90,460.95 281.91,460.95 Q276.70,461.60 271.49,460.95 Q270.50,460.95 270.50,459.45 Q270.50,457.80 271.49,457.80 Z" fill="#07090c"/>
<path d="M285.49,457.80 Q290.70,458.05 295.91,457.80 Q296.90,457.80 296.90,459.45 Q296.90,460.95 295.91,460.95 Q290.70,461.60 285.49,460.95 Q284.50,460.95 284.50,459.45 Q284.50,457.80 285.49,457.80 Z" fill="#07090c"/>
<path d="M299.59,457.80 Q304.40,458.05 309.21,457.80 Q310.20,457.80 310.20,459.45 Q310.20,460.95 309.21,460.95 Q304.40,461.60 299.59,460.95 Q298.60,460.95 298.60,459.45 Q298.60,457.80 299.59,457.80 Z" fill="#07090c"/>
<ellipse cx="230.8" cy="461.4" rx="2.6" ry="1.2" fill="#07090c"/>
<path d="M229.64,472.90 Q234.70,473.15 239.76,472.90 Q241.20,472.90 241.20,475.30 Q241.20,477.49 239.76,477.49 Q234.70,478.40 229.64,477.49 Q228.20,477.49 228.20,475.30 Q228.20,472.90 229.64,472.90 Z" fill="#07090c"/>
<path d="M243.94,472.90 Q249.05,473.15 254.16,472.90 Q255.60,472.90 255.60,475.30 Q255.60,477.49 254.16,477.49 Q249.05,478.40 243.94,477.49 Q242.50,477.49 242.50,475.30 Q242.50,472.90 243.94,472.90 Z" fill="#07090c"/>
<path d="M258.04,472.90 Q263.20,473.15 268.36,472.90 Q269.80,472.90 269.80,475.30 Q269.80,477.49 268.36,477.49 Q263.20,478.40 258.04,477.49 Q256.60,477.49 256.60,475.30 Q256.60,472.90 258.04,472.90 Z" fill="#07090c"/>
<path d="M271.94,472.90 Q276.95,473.15 281.96,472.90 Q283.40,472.90 283.40,475.30 Q283.40,477.49 281.96,477.49 Q276.95,478.40 271.94,477.49 Q270.50,477.49 270.50,475.30 Q270.50,472.90 271.94,472.90 Z" fill="#07090c"/>
<path d="M286.24,472.90 Q291.00,473.15 295.76,472.90 Q297.20,472.90 297.20,475.30 Q297.20,477.49 295.76,477.49 Q291.00,478.40 286.24,477.49 Q284.80,477.49 284.80,475.30 Q284.80,472.90 286.24,472.90 Z" fill="#07090c"/>
<path d="M300.04,472.90 Q304.60,473.15 309.16,472.90 Q310.60,472.90 310.60,475.30 Q310.60,477.49 309.16,477.49 Q304.60,478.40 300.04,477.49 Q298.60,477.49 298.60,475.30 Q298.60,472.90 300.04,472.90 Z" fill="#07090c"/>
<ellipse cx="230.5" cy="477.6" rx="2.4" ry="1.0" fill="#07090c"/>
<text x="314.4" y="461.0" font-family='"Liberation Serif", serif' font-size="6.4" fill="#1a1a1a" textLength="15.9" lengthAdjust="spacingAndGlyphs">STAT3</text>
<text x="314.4" y="477.0" font-family='"Liberation Serif", serif' font-size="6.6" fill="#1a1a1a" textLength="16.6" lengthAdjust="spacingAndGlyphs">B-actin</text>
<rect x="223.2" y="501.8" width="88.8" height="43.1" fill="#2f89b9"/>
<rect x="223.2" y="501.8" width="88.8" height="2.2" fill="#3592c2" opacity="0.7"/>
<path d="M226,507.0 H240" stroke="#2574a0" stroke-width="1.0" opacity="0.65"/>
<path d="M241,507.0 H255" stroke="#2574a0" stroke-width="1.0" opacity="0.65"/>
<path d="M256.5,507.0 H268.5" stroke="#2574a0" stroke-width="1.0" opacity="0.65"/>
<path d="M271,507.0 H283" stroke="#2574a0" stroke-width="1.0" opacity="0.65"/>
<path d="M285,507.0 H297" stroke="#2574a0" stroke-width="1.0" opacity="0.65"/>
<path d="M299,507.0 H311" stroke="#2574a0" stroke-width="1.0" opacity="0.65"/>
<path d="M227,518.6 H238" stroke="#2a7aa8" stroke-width="0.7" opacity="0.45"/>
<path d="M240,518.6 H252" stroke="#2a7aa8" stroke-width="0.7" opacity="0.45"/>
<text x="314.9" y="508.8" font-family='"Liberation Serif", serif' font-size="6.2" fill="#111" stroke="#111" stroke-width="0.12">P</text>
<text x="314.2" y="521.5" font-family='"Liberation Serif", serif' font-size="6.2" fill="#111" stroke="#111" stroke-width="0.12">V</text>
</svg>
</body></html>
